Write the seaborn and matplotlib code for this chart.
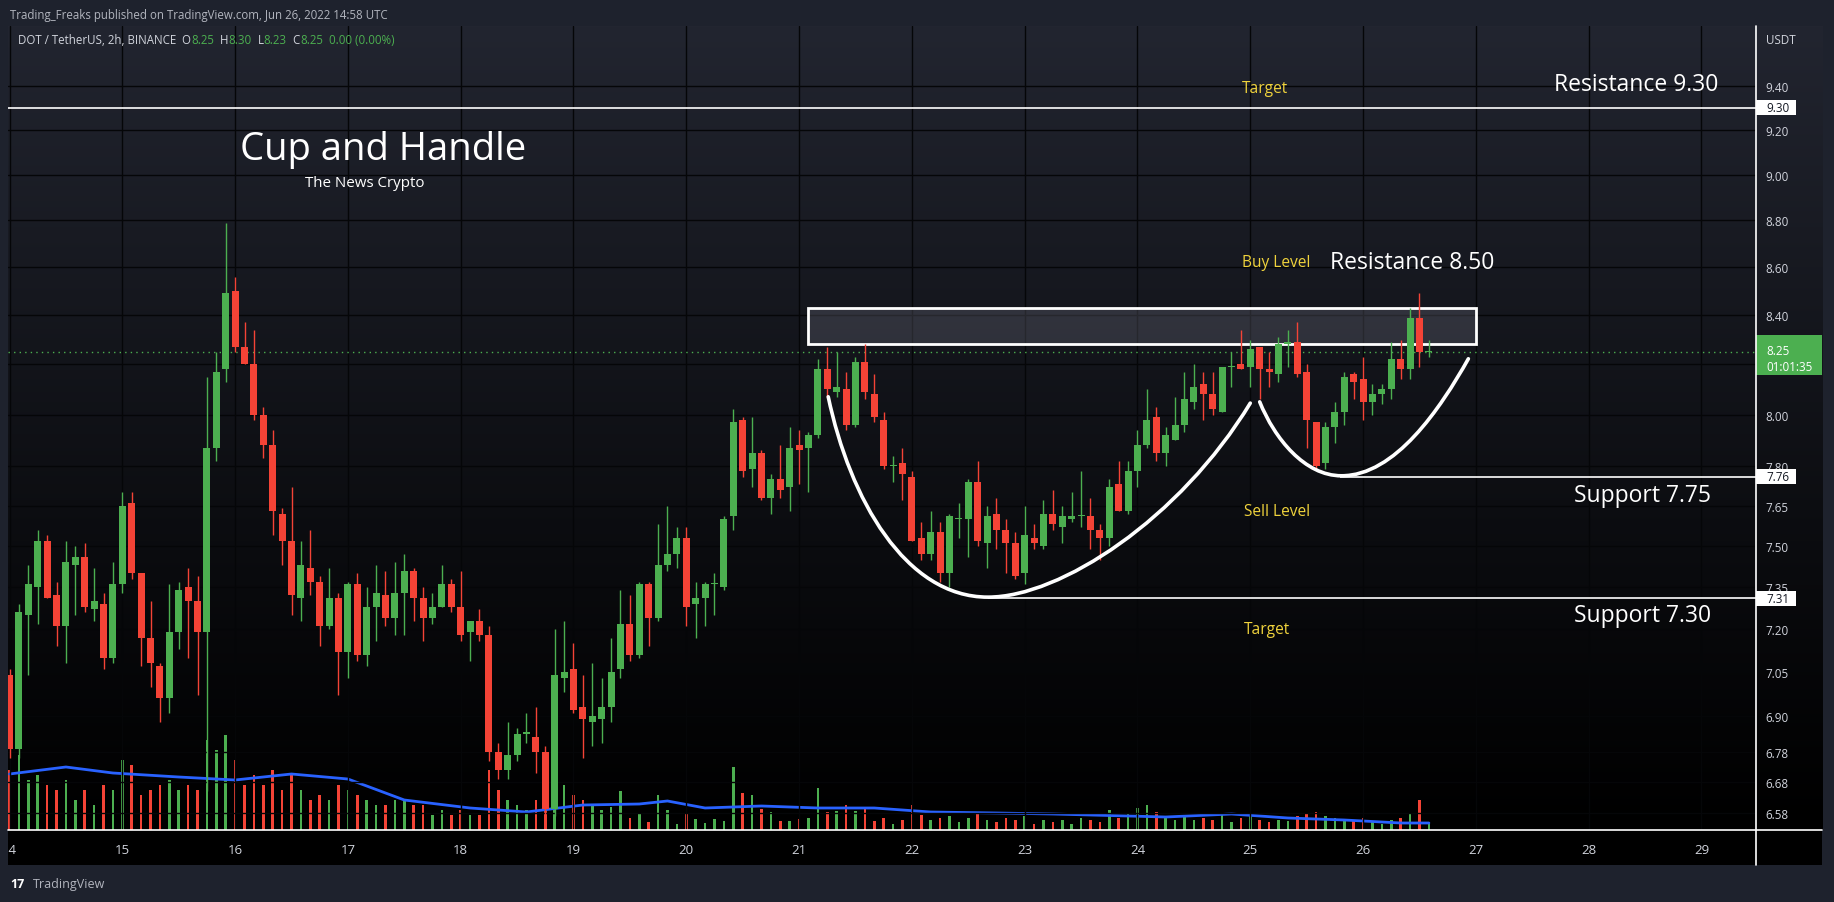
import numpy as np
import pandas as pd
import matplotlib
matplotlib.use("Agg")
import matplotlib.pyplot as plt
from matplotlib.path import Path
from matplotlib.patches import PathPatch, Rectangle
from matplotlib.lines import Line2D
from matplotlib.ticker import FuncFormatter, NullLocator
import seaborn as sns

# DOT / USDT 2h candles, 14 Jun 2022 00:00 -> 26 Jun 2022 14:00 (152 bars)
opens = [7.04, 6.79, 7.25, 7.35, 7.52, 7.32, 7.21, 7.43, 7.46, 7.27, 7.29, 7.10,
         7.36, 7.66, 7.40, 7.17, 7.07, 6.96, 7.19, 7.35, 7.30, 7.19, 7.87, 8.18,
         8.50, 8.27, 8.20, 8.00, 7.88, 7.62, 7.52, 7.31, 7.42, 7.37, 7.21, 7.31,
         7.12, 7.36, 7.11, 7.28, 7.32, 7.24, 7.33, 7.41, 7.31, 7.24, 7.28, 7.36,
         7.28, 7.19, 7.23, 7.18, 6.78, 6.72, 6.77, 6.84, 6.83, 6.78, 6.59, 7.03,
         7.06, 6.93, 6.88, 6.89, 6.93, 7.06, 7.22, 7.11, 7.36, 7.24, 7.43, 7.47,
         7.53, 7.29, 7.31, 7.36, 7.35, 7.61, 7.98, 7.79, 7.85, 7.68, 7.75, 7.72,
         7.88, 7.87, 7.92, 8.18, 8.09, 8.10, 7.96, 8.21, 8.08, 7.98, 7.80, 7.81,
         7.76, 7.53, 7.47, 7.55, 7.40, 7.60, 7.60, 7.74, 7.51, 7.62, 7.56, 7.51,
         7.40, 7.53, 7.50, 7.62, 7.57, 7.60, 7.61, 7.61, 7.56, 7.53, 7.73, 7.63,
         7.78, 7.88, 7.99, 7.85, 7.90, 7.96, 8.05, 8.12, 8.08, 8.01, 8.19, 8.20,
         8.19, 8.27, 8.18, 8.16, 8.28, 8.29, 8.17, 7.97, 7.81, 7.95, 8.01, 8.16,
         8.14, 8.05, 8.08, 8.10, 8.22, 8.18, 8.39, 8.25]
highs = [7.06, 7.29, 7.43, 7.56, 7.54, 7.37, 7.52, 7.50, 7.51, 7.42, 7.33, 7.44,
         7.70, 7.70, 7.40, 7.30, 7.08, 7.36, 7.37, 7.42, 7.39, 8.15, 8.25, 8.79,
         8.56, 8.37, 8.34, 8.03, 7.94, 7.64, 7.72, 7.52, 7.56, 7.39, 7.42, 7.33,
         7.37, 7.40, 7.35, 7.43, 7.41, 7.44, 7.47, 7.42, 7.35, 7.33, 7.43, 7.38,
         7.41, 7.23, 7.27, 7.21, 6.81, 6.88, 6.86, 6.91, 6.93, 6.80, 7.20, 7.23,
         7.15, 7.04, 7.08, 7.03, 7.17, 7.34, 7.32, 7.37, 7.37, 7.58, 7.65, 7.57,
         7.57, 7.37, 7.37, 7.40, 7.61, 8.02, 7.99, 7.99, 7.86, 7.77, 7.88, 7.95,
         7.94, 7.93, 8.22, 8.27, 8.25, 8.17, 8.23, 8.28, 8.16, 8.01, 7.84, 7.87,
         7.78, 7.59, 7.63, 7.59, 7.62, 7.66, 7.75, 7.82, 7.65, 7.68, 7.60, 7.55,
         7.65, 7.58, 7.67, 7.71, 7.65, 7.70, 7.78, 7.68, 7.58, 7.75, 7.82, 7.82,
         7.94, 8.10, 8.03, 7.95, 8.07, 8.17, 8.20, 8.17, 8.17, 8.19, 8.25, 8.34,
         8.30, 8.27, 8.25, 8.31, 8.34, 8.37, 8.20, 7.97, 7.97, 8.05, 8.17, 8.17,
         8.23, 8.12, 8.12, 8.29, 8.30, 8.43, 8.49, 8.30]
lows = [6.76, 6.76, 7.04, 7.22, 7.31, 7.14, 7.08, 7.25, 7.26, 7.23, 7.06, 7.08,
        7.33, 7.38, 7.07, 7.00, 6.88, 6.91, 7.13, 7.10, 6.97, 6.65, 7.82, 8.13,
        8.25, 8.20, 7.98, 7.83, 7.54, 7.43, 7.25, 7.23, 7.32, 7.14, 7.20, 6.97,
        7.03, 7.09, 7.07, 7.16, 7.21, 7.18, 7.18, 7.23, 7.16, 7.22, 7.28, 7.26,
        7.16, 7.09, 7.16, 6.75, 6.69, 6.69, 6.75, 6.81, 6.71, 6.56, 6.57, 6.98,
        6.91, 6.76, 6.80, 6.81, 6.88, 7.03, 7.09, 7.10, 7.14, 7.23, 7.41, 7.42,
        7.21, 7.17, 7.21, 7.25, 7.34, 7.56, 7.76, 7.72, 7.67, 7.62, 7.68, 7.63,
        7.73, 7.70, 7.91, 8.07, 8.07, 7.94, 7.95, 8.06, 7.97, 7.79, 7.74, 7.67,
        7.52, 7.45, 7.45, 7.37, 7.35, 7.53, 7.46, 7.50, 7.42, 7.49, 7.40, 7.38,
        7.36, 7.49, 7.49, 7.56, 7.51, 7.59, 7.57, 7.49, 7.45, 7.50, 7.63, 7.62,
        7.72, 7.87, 7.82, 7.80, 7.90, 7.93, 8.02, 7.98, 8.00, 8.01, 8.11, 8.18,
        8.11, 8.06, 8.11, 8.13, 8.19, 8.15, 7.87, 7.79, 7.79, 7.89, 7.96, 8.06,
        7.98, 8.00, 8.04, 8.06, 8.14, 8.14, 8.19, 8.23]
closes = [6.79, 7.26, 7.36, 7.52, 7.31, 7.21, 7.44, 7.46, 7.28, 7.30, 7.10, 7.36,
          7.65, 7.40, 7.17, 7.08, 6.96, 7.19, 7.34, 7.30, 7.19, 7.87, 8.17, 8.49,
          8.27, 8.20, 8.00, 7.88, 7.63, 7.52, 7.32, 7.43, 7.37, 7.21, 7.31, 7.12,
          7.36, 7.11, 7.28, 7.33, 7.24, 7.33, 7.41, 7.31, 7.24, 7.28, 7.36, 7.28,
          7.18, 7.23, 7.18, 6.78, 6.72, 6.77, 6.84, 6.845, 6.78, 6.59, 7.04, 7.05,
          6.92, 6.89, 6.90, 6.93, 7.05, 7.22, 7.11, 7.36, 7.24, 7.43, 7.47, 7.53,
          7.28, 7.31, 7.36, 7.362, 7.60, 7.97, 7.78, 7.85, 7.68, 7.75, 7.71, 7.87,
          7.86, 7.92, 8.18, 8.10, 8.11, 7.96, 8.21, 8.09, 7.99, 7.80, 7.802, 7.77,
          7.52, 7.47, 7.55, 7.40, 7.61, 7.602, 7.74, 7.52, 7.61, 7.56, 7.51, 7.39,
          7.54, 7.51, 7.62, 7.58, 7.61, 7.61, 7.612, 7.56, 7.53, 7.72, 7.63, 7.78,
          7.88, 7.98, 7.85, 7.92, 7.96, 8.06, 8.11, 8.08, 8.02, 8.19, 8.192, 8.18,
          8.26, 8.18, 8.17, 8.28, 8.29, 8.16, 7.98, 7.80, 7.95, 8.01, 8.15, 8.13,
          8.05, 8.08, 8.10, 8.22, 8.18, 8.39, 8.25, 8.25]
# volume bars (thousand DOT, rough reading)
volumes = [60, 75, 50, 55, 45, 40, 50, 30, 40, 25, 45, 40,
           70, 65, 35, 40, 45, 50, 40, 45, 40, 90, 80, 95,
           70, 45, 55, 45, 60, 40, 55, 40, 30, 35, 30, 45,
           40, 35, 30, 25, 25, 30, 30, 25, 25, 15, 20, 15,
           20, 15, 15, 60, 40, 30, 25, 20, 30, 55, 80, 45,
           35, 30, 25, 20,
           23, 39, 12, 16, 8, 35, 20, 6, 16, 11, 7, 11, 9, 63, 37, 35, 21, 18, 9, 9,
           11, 12, 42, 18, 19, 25, 19, 21,
           9, 12, 6, 10, 25, 15, 10, 12, 14, 8, 12, 18,
           10, 8, 12, 10, 14, 6, 10, 8, 10, 6, 12, 10,
           8, 20, 12, 16, 22, 25, 18, 12, 10, 14, 10, 12,
           10, 16, 8, 12, 14, 10, 8, 10, 9, 14, 16, 18,
           14, 12, 10, 10, 12, 8, 6, 10, 12, 16, 30, 8]
# volume moving average
vol_ma_x = [0, 6, 11, 18, 24, 30, 36, 42, 49, 55, 61, 67, 70, 74, 80, 86, 92,
            98, 105, 111, 123, 130, 136, 142, 148, 151]
vol_ma = [56, 63, 57, 53, 50, 56, 51, 30, 22, 18, 25, 26, 29, 22, 24, 22, 22,
          18, 17, 16, 13, 16, 12, 10, 7, 7]
day_labels = [str(d) for d in range(14, 30)]
price_ticks = [9.40, 9.20, 9.00, 8.80, 8.60, 8.40, 8.20, 8.00, 7.80, 7.65, 7.50,
               7.35, 7.20, 7.05, 6.90, 6.78, 6.68, 6.58]
last_price = 8.25

assert len(opens) == len(highs) == len(lows) == len(closes) == len(volumes) == 152

W, H, DPI = 1834, 903, 100
BG = "#1e222d"
UP, DOWN = "#4caf50", "#f44336"
TXT = "#d1d4dc"
YEL = "#f0d33c"

sns.set_theme(style="dark")
plt.rcParams["font.family"] = ["Open Sans", "DejaVu Sans"]

df = pd.DataFrame({"open": opens, "high": highs, "low": lows, "close": closes, "volume": volumes})
df["x"] = np.arange(len(df))
df["up"] = df["close"] >= df["open"]

fig = plt.figure(figsize=(W / DPI, H / DPI), dpi=DPI, facecolor=BG)


def box(l, t, r, b):
    return [l / W, 1 - b / H, (r - l) / W, (b - t) / H]


# background gradient of chart pane + price scale
bg = fig.add_axes(box(8, 27, 1822, 831), zorder=0)
t = np.linspace(0, 1, 400)[:, None, None]
top = np.array([34, 37, 48]) / 255
bg.imshow(top * (1 - t) ** 1.1, aspect="auto", extent=[0, 1, 0, 1])
bg.axis("off")
tbg = fig.add_axes(box(8, 831, 1822, 866), zorder=0)
tbg.set_facecolor("black")
tbg.set_xticks([]); tbg.set_yticks([])
for s in tbg.spines.values():
    s.set_visible(False)

XMIN, XMAX = -0.16, 185.8

# volume pane (behind the candles)
vax = fig.add_axes(box(8, 27, 1756, 831), zorder=1)
vax.set_facecolor("none")
vax.bar(df["x"], df["volume"], width=0.28, color=np.where(df["up"], UP, DOWN), lw=0)
sns.lineplot(x=vol_ma_x, y=vol_ma, ax=vax, color="#2962ff", lw=2)
vax.set_ylim(0, 804)
vax.set_xlim(XMIN, XMAX)
vax.axis("off")

# price pane
ax = fig.add_axes(box(8, 27, 1756, 831), zorder=2)
ax.set_facecolor("none")
ax.set_yscale("log")
ax.set_ylim(6.524, 9.681)
ax.set_xlim(XMIN, XMAX)
ax.set_yticks(price_ticks)
ax.yaxis.set_minor_locator(NullLocator())
# the 8.20 label sits under the last-price tag, as on the original
ax.yaxis.set_major_formatter(FuncFormatter(lambda v, pos: "" if abs(v - 8.20) < 1e-6 else f"{v:.2f}"))
ax.yaxis.tick_right()
ax.tick_params(axis="y", length=0, pad=7, labelsize=8.4, labelcolor=TXT)
ax.set_xticks(np.arange(0, 12 * len(day_labels), 12))
ax.tick_params(axis="x", length=0, labelbottom=False)
ax.grid(True, color="#050608", lw=1)
ax.set_axisbelow(True)
for s in ax.spines.values():
    s.set_visible(False)

for up, color in [(True, UP), (False, DOWN)]:
    d = df[df["up"] == up]
    ax.vlines(d["x"], d["low"], d["high"], color=color, lw=1, zorder=3)
    ax.bar(d["x"], (d["close"] - d["open"]).abs().clip(lower=0.004),
           bottom=d[["open", "close"]].min(axis=1), width=0.74, color=color, lw=0, zorder=4)

ax.axhline(last_price, color=UP, lw=1, ls=(0, (1, 3)), zorder=2.6)

# drawings
ax.add_patch(Rectangle((85, 8.28), 71, 0.15, fc=(0.45, 0.46, 0.52, 0.30), ec="white", lw=2, zorder=2.7))
ax.axhline(9.30, color="white", lw=1.2, zorder=5)
ax.hlines(7.76, 141.5, XMAX, color="white", lw=1.2, zorder=5)
ax.hlines(7.31, 104.1, XMAX, color="white", lw=1.2, zorder=5)

C4 = Path.CURVE4
cup = Path([(87.1, 8.07), (89.4, 7.675), (95.3, 7.314), (104.1, 7.314),
            (111.8, 7.314), (124.5, 7.60), (132.0, 8.045)],
           [Path.MOVETO, C4, C4, C4, C4, C4, C4])
handle = Path([(133.0, 8.05), (134.6, 7.905), (137.8, 7.763), (141.7, 7.763),
               (147.4, 7.763), (152.2, 8.022), (155.2, 8.222)],
              [Path.MOVETO, C4, C4, C4, C4, C4, C4])
for p in (cup, handle):
    ax.add_patch(PathPatch(p, fc="none", ec="white", lw=2.6, zorder=6, capstyle="round"))

ax.text(39.7, 9.114, "Cup and Handle", color="white", fontsize=27.5, ha="center", va="center")
ax.text(37.8, 8.963, "The News Crypto", color="white", fontsize=10.9, ha="center", va="center")
for x, y, s in [(133.6, 9.39, "Target"), (134.8, 8.62, "Buy Level"),
                (134.9, 7.63, "Sell Level"), (133.8, 7.20, "Target")]:
    ax.text(x, y, s, color=YEL, fontsize=11.2, ha="center", va="center")
for x, y, s in [(173.1, 9.41, "Resistance 9.30"), (149.2, 8.62, "Resistance 8.50"),
                (173.7, 7.69, "Support 7.75"), (173.7, 7.25, "Support 7.30")]:
    ax.text(x, y, s, color="white", fontsize=16.5, ha="center", va="center")


def ypx(price):
    return ax.transData.transform((0, price))[1]


# price scale labels in boxes
for pr, s in [(9.30, "9.30"), (7.76, "7.76"), (7.31, "7.31")]:
    yc = ypx(pr)
    fig.add_artist(Rectangle((1756 / W, (yc - 7.5) / H), 40 / W, 15 / H,
                             transform=fig.transFigure, fc="white", ec="none", zorder=10))
    fig.text(1766 / W, yc / H, s, color="#131722", fontsize=8.4, va="center", zorder=11)
yc = ypx(last_price)
fig.add_artist(Rectangle((1756 / W, (yc - 23) / H), 66 / W, 40 / H,
                         transform=fig.transFigure, fc=UP, ec="none", zorder=10))
fig.text(1766 / W, (yc + 1) / H, f"{last_price:.2f}", color="white", fontsize=8.4, va="center", zorder=11)
fig.text(1766 / W, (yc - 15) / H, "01:01:35", color="white", fontsize=8.4, va="center", zorder=11)
fig.text(1766 / W, 1 - 41 / H, "USDT", color=TXT, fontsize=8.4, va="center")

# time scale
tax = fig.add_axes(box(8, 831, 1756, 866), zorder=3)
tax.set_facecolor("none")
tax.set_xlim(XMIN, XMAX)
tax.set_ylim(0, 1)
tax.axis("off")
for i, lab in enumerate(day_labels):
    tax.text(12 * i, 0.45, lab, color=TXT, fontsize=9.5, ha="center", va="center", clip_on=True)

# scale borders
fig.add_artist(Line2D([1756 / W, 1756 / W], [1 - 27 / H, 1 - 866 / H], color="white", lw=1.2, zorder=12))
fig.add_artist(Line2D([8 / W, 1822 / W], [1 - 831 / H, 1 - 831 / H], color="white", lw=1.2, zorder=12))

# header and footer
fig.text(10 / W, 1 - 15 / H, "Trading_Freaks published on TradingView.com, Jun 26, 2022 14:58 UTC",
         color="#b2b5be", fontsize=8.3, va="center")
pieces = [("DOT / TetherUS, 2h, BINANCE ", TXT), (" O", TXT), ("8.25", UP), ("  H", TXT), ("8.30", UP),
          ("  L", TXT), ("8.23", UP), ("  C", TXT), ("8.25", UP), ("  0.00 (0.00%)", UP)]
prev = ax.annotate(pieces[0][0], xy=(18, H - 41), xycoords="figure pixels", color=TXT,
                   fontsize=8.3, va="center", ha="left", annotation_clip=False)
for s, c in pieces[1:]:
    prev = ax.annotate(s, xy=(1, 0.5), xycoords=prev, color=c, fontsize=8.3, va="center", ha="left")
fig.text(10 / W, 1 - 885 / H, "17", color="white", fontsize=9, fontweight="bold", va="center")
fig.text(33 / W, 1 - 885 / H, "TradingView", color="#b2b5be", fontsize=9, va="center")

fig.savefig("out.png", dpi=DPI, facecolor=BG)
